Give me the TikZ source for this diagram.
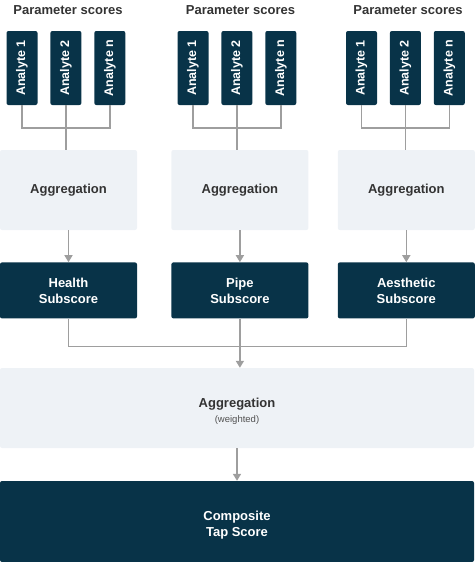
\documentclass[tikz,border=0pt]{standalone}
\usepackage{fontspec}
\setmainfont{Liberation Sans}
\usepackage{graphicx}
\usetikzlibrary{arrows.meta,positioning,calc}

\definecolor{navy}{HTML}{083348}
\definecolor{paleblue}{HTML}{EEF2F6}
\definecolor{linegray}{HTML}{9E9E9E}
\definecolor{inkgray}{HTML}{333333}

\begin{document}
\begin{tikzpicture}[
      x = 1pt,y = -1pt,
      heading/.style = {text = inkgray,font = \bfseries\fontsize{13}{16}\selectfont},
      analyte/.style = {rectangle,rounded corners = 2pt,fill = navy,text = white,inner sep = 0,
        minimum width = 31pt,minimum height = 74pt,font = \bfseries\fontsize{12.5}{15}\selectfont},
      aggbox/.style = {rectangle,rounded corners = 2pt,fill = paleblue,text = inkgray,align = center,
        minimum width = 137pt,minimum height = 80pt,font = \bfseries\fontsize{13}{16}\selectfont},
      subscore/.style = {rectangle,rounded corners = 2pt,fill = navy,text = white,align = center,
        minimum width = 137pt,minimum height = 56pt,font = \bfseries\fontsize{13}{16}\selectfont},
      wide/.style = {minimum width = 474pt},
      link/.style = {linegray,line width = 1.6pt},
      arrow/.style = {link,-{Triangle[width = 8pt,length = 7pt]}}
    ]
      \useasboundingbox (0,0) rectangle (474,562);

      \node (head1)[heading] at (68,10) {Parameter scores};
      \node (head2)[heading] at (240.5,10) {Parameter scores};
      \node (head3)[heading] at (408,10) {Parameter scores};

      \node (a11)[analyte] at (22,68) {\rotatebox{90}{Analyte 1}};
      \node (a12)[analyte,right = 12.5pt of a11] {\rotatebox{90}{Analyte 2}};
      \node (a13)[analyte,right = 12.5pt of a12] {\rotatebox{90}{Analyte n}};
      \node (a21)[analyte] at (193,68) {\rotatebox{90}{Analyte 1}};
      \node (a22)[analyte,right = 12.5pt of a21] {\rotatebox{90}{Analyte 2}};
      \node (a23)[analyte,right = 12.5pt of a22] {\rotatebox{90}{Analyte n}};
      \node (a31)[analyte] at (361.5,68) {\rotatebox{90}{Analyte 1}};
      \node (a32)[analyte,right = 12.5pt of a31] {\rotatebox{90}{Analyte 2}};
      \node (a33)[analyte,right = 12.5pt of a32] {\rotatebox{90}{Analyte n}};

      \node (agg1)[aggbox] at (68.5,190) {Aggregation};
      \node (agg2)[aggbox,right = 34pt of agg1] {Aggregation};
      \node (agg3)[aggbox,right = 29pt of agg2] {Aggregation};

      \node (sub1)[subscore,below = 32pt of agg1] {Health\\Subscore};
      \node (sub2)[subscore,below = 32pt of agg2] {Pipe\\Subscore};
      \node (sub3)[subscore,below = 32pt of agg3] {Aesthetic\\Subscore};

      \node (aggw)[aggbox,wide] at (237,408) {\rule{0pt}{15pt}Aggregation\\[-1pt]{\mdseries\fontsize{9.5}{12}\selectfont\color{inkgray!85}(weighted)}};
      \node (comp)[subscore,wide,minimum height = 81pt] at (237,521.5) {\rule{0pt}{16pt}Composite\\Tap Score};

      \foreach \g in {1,2,3} {
        \draw [link] (a\g1.south) -- ++(0,23) -| (a\g3.south);
        \draw [link] (a\g2.south) -- (a\g2.south |- agg\g.north);
        \draw [arrow] (agg\g.south) -- (sub\g.north);
      }

      \draw [link] (sub1.south) -- ++(0,28) -| (sub3.south);
      \draw [arrow] (sub2.south) -- (sub2.south |- aggw.north);
      \draw [arrow] (aggw.south) -- (comp.north);
    \end{tikzpicture}
\end{document}
